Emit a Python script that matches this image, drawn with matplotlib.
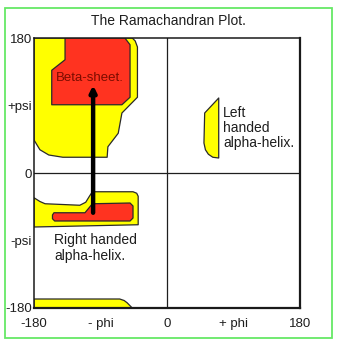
import matplotlib
matplotlib.use("Agg")
import matplotlib.pyplot as plt
from matplotlib.patches import Polygon, Rectangle

plt.rcParams["font.family"] = ["Liberation Sans", "DejaVu Sans"]

# ---- allowed regions (phi, psi) --------------------------------------------
beta_yellow_phi = [-180, -47, -43, -40, -40, -61, -66, -80, -81, -141, -160, -172, -180]
beta_yellow_psi = [180, 180, 176, 168, 101, 80, 53, 35, 21, 21, 24, 31, 44]

beta_red_phi = [-138, -57, -50, -50, -61, -156, -156, -138]
beta_red_psi = [180, 180, 171, 101, 91, 91, 137, 151]

alpha_yellow_phi = [-180, -172, -165, -118, -110, -105, -101, -46, -41, -39, -39, -180]
alpha_yellow_psi = [-33, -38, -41, -43, -39, -31, -25, -25, -27, -31, -69, -72]

alpha_red_phi = [-153, -111, -101, -50, -46, -46, -50, -152, -155, -155]
alpha_red_psi = [-53, -53, -41, -40, -44, -60, -64, -64, -61, -56]

bottom_phi = [-180, -64, -58, -54, -47, -180]
bottom_psi = [-168, -168, -170, -173, -180, -180]

left_phi = [70, 51, 50, 52, 56, 62, 70]
left_psi = [100, 80, 40, 31, 25, 21, 20]

arrow_phi = -100
arrow_psi = [-53, 117]

tick_pos = [-180, -90, 0, 90, 180]
xtick_labels = ["-180", "- phi", "0", "+ phi", "180"]
ytick_labels = ["-180", "-psi", "0", "+psi", "180"]

YELLOW = "#ffff00"
RED = "#ff3320"
EDGE = "#2a2a2a"
INK = "#1e1e1e"

fig = plt.figure(figsize=(3.39, 3.44), dpi=100)
ax = fig.add_axes([34 / 339, 1 - 308 / 344, 266 / 339, 270 / 344])
ax.set_xlim(-180, 180)
ax.set_ylim(-180, 180)

for xs, ys, c in [(beta_yellow_phi, beta_yellow_psi, YELLOW),
                  (beta_red_phi, beta_red_psi, RED),
                  (alpha_yellow_phi, alpha_yellow_psi, YELLOW),
                  (alpha_red_phi, alpha_red_psi, RED),
                  (bottom_phi, bottom_psi, YELLOW),
                  (left_phi, left_psi, YELLOW)]:
    ax.add_patch(Polygon(list(zip(xs, ys)), closed=True, fc=c, ec=EDGE, lw=0.9,
                         joinstyle="round", zorder=2))

ax.axhline(0, color=INK, lw=0.9, zorder=1)
ax.axvline(0, color=INK, lw=0.9, zorder=1)

ax.annotate("", xy=(arrow_phi, arrow_psi[1]), xytext=(arrow_phi, arrow_psi[0]),
            arrowprops=dict(arrowstyle="-|>", lw=3.2, color="black",
                            mutation_scale=9, shrinkA=0, shrinkB=0), zorder=4)

ax.text(-104, 127, "Beta-sheet.", color="#7a0c00", fontsize=9.5,
        ha="center", va="center", zorder=5)
ax.text(-153, -80, "Right handed\nalpha-helix.", color=INK, fontsize=10,
        ha="left", va="top", linespacing=1.15, zorder=5)
ax.text(76, 89, "Left\nhanded\nalpha-helix.", color=INK, fontsize=10,
        ha="left", va="top", linespacing=1.08, zorder=5)

ax.set_xticks(tick_pos)
ax.set_xticklabels(xtick_labels)
ax.set_yticks(tick_pos)
ax.set_yticklabels(ytick_labels)
ax.tick_params(axis="x", length=0, pad=7.5, labelsize=9.5, colors=INK)
ax.tick_params(axis="y", length=0, pad=1.5, labelsize=9.5, colors=INK)

for side in ["top", "left"]:
    ax.spines[side].set_linewidth(1.1)
for side in ["right", "bottom"]:
    ax.spines[side].set_linewidth(1.6)
for sp in ax.spines.values():
    sp.set_color("#1a1a1a")

fig.text(168 / 339, 1 - 21 / 344, "The Ramachandran Plot.", ha="center", va="center",
         fontsize=10, color=INK)
fig.patches.append(Rectangle((5 / 339, 1 - 338 / 344), 327 / 339, 330 / 344,
                             transform=fig.transFigure, fill=False,
                             ec="#66e866", lw=1.3))

fig.savefig("out.png", dpi=100)
